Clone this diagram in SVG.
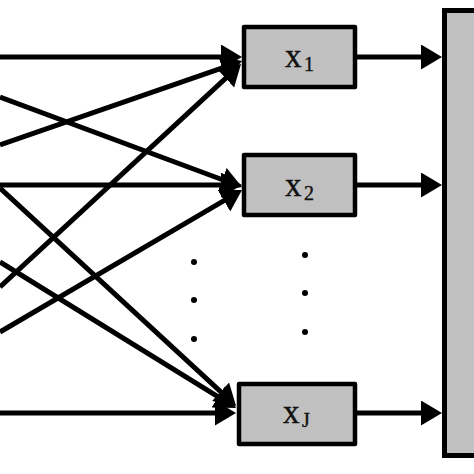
<svg xmlns="http://www.w3.org/2000/svg" width="474" height="474" viewBox="0 0 474 474">
<defs>
<marker id="ah" markerUnits="userSpaceOnUse" markerWidth="22" markerHeight="26" viewBox="0 0 22 26" refX="11" refY="12.5" orient="auto">
<path d="M0,0 L21,12.5 L0,25 Z" fill="#000"/>
</marker>
<style>
.box{fill:#c0c0c0;stroke:#000;stroke-width:4.5;stroke-linejoin:round}
.big{fill:#c0c0c0;stroke:#000;stroke-width:5}
.ln{stroke:#000;stroke-width:5;fill:none;marker-end:url(#ah)}
.lbl{font-family:"Liberation Serif","Times New Roman",serif;font-size:33px;fill:#111;stroke:#111;stroke-width:0.4}
.sub{font-size:20px}
.dot{fill:#000}
</style>
</defs>
<rect width="474" height="474" fill="#fff"/>
<g id="connectors">
<line class="ln" x1="0" y1="57" x2="232" y2="57"/>
<line class="ln" x1="0" y1="97" x2="232.6" y2="183.5"/>
<line class="ln" x1="0" y1="145" x2="232.6" y2="64.3"/>
<line class="ln" x1="0" y1="185" x2="232" y2="185"/>
<line class="ln" x1="0" y1="188" x2="228.7" y2="399.2"/>
<line class="ln" x1="0" y1="262" x2="227.5" y2="402.7"/>
<line class="ln" x1="0" y1="287" x2="233.7" y2="70.8"/>
<line class="ln" x1="0" y1="332" x2="233.4" y2="195.1"/>
<line class="ln" x1="0" y1="413" x2="226" y2="413"/>
<line class="ln" x1="357" y1="57" x2="432" y2="57"/>
<line class="ln" x1="357" y1="185" x2="432" y2="185"/>
<line class="ln" x1="357" y1="413" x2="432" y2="413"/>
</g>
<g id="node-x1">
<rect class="box" x="244" y="27" width="111" height="60"/>
<text class="lbl" x="285" y="67">x<tspan class="sub" x="304" y="71">1</tspan></text>
</g>
<g id="node-x2">
<rect class="box" x="244" y="155" width="111" height="60"/>
<text class="lbl" x="285" y="196">x<tspan class="sub" x="304" y="200">2</tspan></text>
</g>
<g id="node-xJ">
<rect class="box" x="239" y="384" width="116" height="60"/>
<text class="lbl" x="283" y="423">x<tspan class="sub" x="302" y="427">J</tspan></text>
</g>
<g id="node-output">
<rect class="big" x="444.5" y="10.5" width="40" height="445"/>
</g>
<g id="ellipsis">
<circle class="dot" cx="194" cy="262" r="3"/>
<circle class="dot" cx="194" cy="300" r="3"/>
<circle class="dot" cx="194" cy="339" r="3"/>
<circle class="dot" cx="305" cy="255" r="3"/>
<circle class="dot" cx="305" cy="293" r="3"/>
<circle class="dot" cx="305" cy="332" r="3"/>
</g>
</svg>
